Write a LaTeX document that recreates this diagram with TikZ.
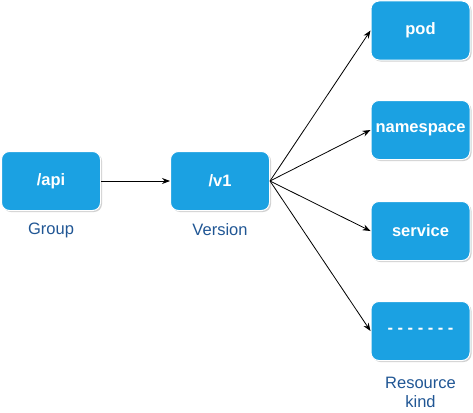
\documentclass[tikz,border=0pt]{standalone}
\usepackage{fontspec}
\setmainfont{Liberation Sans}
\usetikzlibrary{arrows.meta,shadows}
\definecolor{boxblue}{RGB}{27,161,226}
\definecolor{labelblue}{RGB}{32,86,148}
\tikzset{
  box/.style={draw=white, line width=1pt, fill=boxblue, rounded corners=8pt,
    minimum width=99pt, minimum height=59pt, inner sep=0pt,
    text=white, font=\fontsize{16.5}{18}\selectfont\bfseries,
    drop shadow={shadow xshift=1.5pt, shadow yshift=-1.5pt, fill=black!30, opacity=0.6}},
  lab/.style={text=labelblue, font=\fontsize{16.5}{19}\selectfont, align=center},
  conn/.style={-{Stealth[length=8pt,width=6pt]}, line width=0.8pt, black}
}
\begin{document}
\begin{tikzpicture}[x=1pt,y=-1pt]
\useasboundingbox (0,0) rectangle (473,412);
\node[box] (api) at (51,181) {/api};
\node[box] (v1) at (220,181) {/v1};
\node[box] (pod) at (420.5,30.5) {pod};
\node[box] (ns) at (420.5,130) {namespace};
\node[box] (svc) at (420.5,231) {service};
\node[box] (more) at (420.5,331) {- - - - - - -};
\node[lab] (g) at (51,230) {Group};
\node[lab] (v) at (220,230) {Version};
\node[lab] (rk) at (420.5,392) {Resource\\kind};
\draw[conn] (api) -- (v1);
\draw[conn] (v1.east) -- (pod.west);
\draw[conn] (v1.east) -- (ns.west);
\draw[conn] (v1.east) -- (svc.west);
\draw[conn] (v1.east) -- (more.west);
\end{tikzpicture}
\end{document}
